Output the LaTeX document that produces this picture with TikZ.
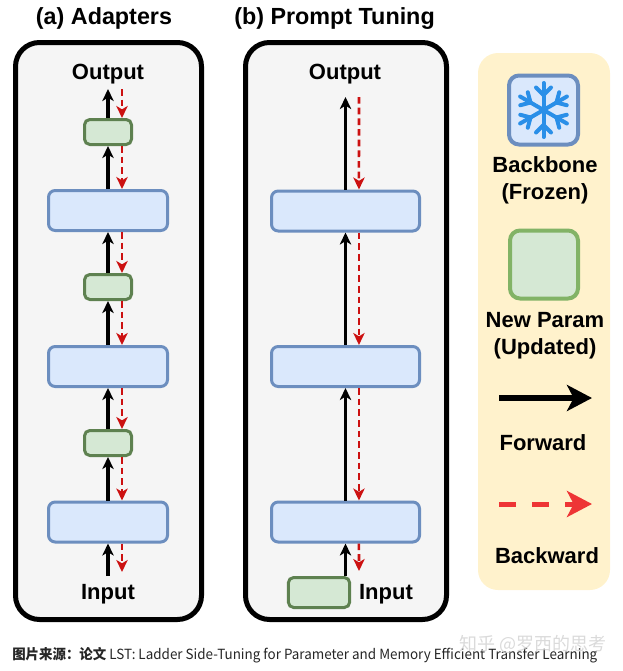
\documentclass[tikz,border=0pt]{standalone}
\usepackage{fontspec}
\setmainfont{Liberation Sans}
\newfontfamily\cjk{Noto Sans CJK SC}
\usetikzlibrary{arrows.meta}
\definecolor{panelgray}{HTML}{F5F5F5}
\definecolor{bluefill}{HTML}{DAE8FC}
\definecolor{bluedraw}{HTML}{6C8EBF}
\definecolor{greenfill}{HTML}{D5E8D4}
\definecolor{greendark}{HTML}{5E8150}
\definecolor{greenlight}{HTML}{82B366}
\definecolor{reddark}{HTML}{CC1111}
\definecolor{redlight}{HTML}{EE3535}
\definecolor{legendbg}{HTML}{FFF2CC}
\definecolor{snowblue}{HTML}{2A8FE8}
\tikzset{
  panelframe/.style={draw=black, line width=3.75pt, fill=panelgray, rounded corners=18pt},
  bluebox/.style={draw=bluedraw, fill=bluefill, line width=2.25pt, rounded corners=5pt,
    minimum width=#1, minimum height=30pt, inner sep=0pt},
  greenbox/.style={draw=greendark, fill=greenfill, line width=2.25pt, rounded corners=4pt,
    minimum width=35.25pt, minimum height=18.75pt, inner sep=0pt},
  fwd/.style={draw=black, line width=#1, -{Stealth[length=9pt,width=8.5pt,inset=2.5pt]}},
  bwd/.style={draw=reddark, line width=1.9pt, dash pattern=on 5pt off 3pt,
    -{Stealth[length=9pt,width=8.5pt,inset=2.5pt]}},
  lbl/.style={font=\fontsize{16.5}{20}\selectfont\bfseries, inner sep=0pt, anchor=base},
  ttl/.style={font=\fontsize{17.5}{21}\selectfont\bfseries, inner sep=0pt, anchor=base},
  snowline/.style={draw=snowblue, line width=3pt, line cap=round, line join=round},
}
\begin{document}
\begin{tikzpicture}[x=0.75pt,y=-0.75pt]
\useasboundingbox (0,0) rectangle (623,671);

% titles
\node[ttl] (ta) at (104,24) {(a) Adapters};
\node[ttl] (tb) at (334.5,24) {(b) Prompt Tuning};

% panel frames
\draw[panelframe] (15.5,42.5) rectangle (201.5,619.5);
\draw[panelframe] (245.5,42.5) rectangle (446.5,619.5);

% ---------- panel (a)
\node[bluebox=89.25pt] (a1) at (108,210.5) {};
\node[bluebox=89.25pt] (a2) at (108,366.5) {};
\node[bluebox=89.25pt] (a3) at (108,522) {};
\node[greenbox] (ag1) at (108,132) {};
\node[greenbox] (ag2) at (108,287) {};
\node[greenbox] (ag3) at (108,443) {};
\node[lbl] (aout) at (108,79) {Output};
\node[lbl] (ain) at (108,599) {Input};
\coordinate (aT) at (108,89);
\coordinate (aB) at (108,576);
\coordinate (aTR) at (122,89);
\coordinate (aBR) at (122,572);

\draw[fwd=2.4pt] (aB) -- (a3.south);
\draw[fwd=2.4pt] (a3.north) -- (ag3.south);
\draw[fwd=2.4pt] (ag3.north) -- (a2.south);
\draw[fwd=2.4pt] (a2.north) -- (ag2.south);
\draw[fwd=2.4pt] (ag2.north) -- (a1.south);
\draw[fwd=2.4pt] (a1.north) -- (ag1.south);
\draw[fwd=2.4pt] (ag1.north) -- (aT);

\draw[bwd] (aTR) -- ([xshift=10.5pt]ag1.north);
\draw[bwd] ([xshift=10.5pt]ag1.south) -- ([xshift=10.5pt]a1.north);
\draw[bwd] ([xshift=10.5pt]a1.south) -- ([xshift=10.5pt]ag2.north);
\draw[bwd] ([xshift=10.5pt]ag2.south) -- ([xshift=10.5pt]a2.north);
\draw[bwd] ([xshift=10.5pt]a2.south) -- ([xshift=10.5pt]ag3.north);
\draw[bwd] ([xshift=10.5pt]ag3.south) -- ([xshift=10.5pt]a3.north);
\draw[bwd] ([xshift=10.5pt]a3.south) -- (aBR);

% ---------- panel (b)
\node[bluebox=111pt] (b1) at (345.5,211) {};
\node[bluebox=111pt] (b2) at (345.5,366.5) {};
\node[bluebox=111pt] (b3) at (345.5,522) {};
\node[greenbox, minimum width=46pt, minimum height=22.5pt] (bg) at (319,592.5) {};
\node[lbl] (bout) at (345,79) {Output};
\node[lbl] (bin) at (386,599) {Input};
\coordinate (bT) at (345.5,97);
\coordinate (bTR) at (359,97);
\coordinate (bBR) at (359,571);

\draw[fwd=2pt] (bg.north -| b3.south) -- (b3.south);
\draw[fwd=2pt] (b3.north) -- (b2.south);
\draw[fwd=2pt] (b2.north) -- (b1.south);
\draw[fwd=2pt] (b1.north) -- (bT);

\draw[bwd] (bTR) -- ([xshift=10.1pt]b1.north);
\draw[bwd] ([xshift=10.1pt]b1.south) -- ([xshift=10.1pt]b2.north);
\draw[bwd] ([xshift=10.1pt]b2.south) -- ([xshift=10.1pt]b3.north);
\draw[bwd] ([xshift=10.1pt]b3.south) -- (bBR);

% ---------- legend
\fill[legendbg, rounded corners=15pt] (478,53) rectangle (610,590);
\node[draw=bluedraw, fill=bluefill, line width=3pt, rounded corners=7.5pt,
      minimum width=51.75pt, minimum height=51.75pt, inner sep=0pt] (snowbox) at (543.5,110) {};
\foreach \ang in {90,150,210,270,330,390} {
  \begin{scope}[shift={(snowbox.center)}, rotate=\ang]
    \draw[snowline] (0,0) -- (27,0);
    \draw[snowline] (22.5,7.5) -- (15,0) -- (22.5,-7.5);
  \end{scope}
}
\node[lbl] (lb1) at (545,172) {Backbone};
\node[lbl] (lb2) at (545,199) {(Frozen)};
\node[draw=greenlight, fill=greenfill, line width=3pt, rounded corners=7.5pt,
      minimum width=51pt, minimum height=51pt, inner sep=0pt] (gbox) at (544,264.5) {};
\node[lbl] (ln1) at (545,327) {New Param};
\node[lbl] (ln2) at (545,354) {(Updated)};
\coordinate (lf1) at (499,398);
\coordinate (lf2) at (592,398);
\draw[draw=black, line width=4.5pt, -{Stealth[length=18.75pt,width=19.5pt,inset=5pt]}] (lf1) -- (lf2);
\node[lbl] (lfw) at (543,450) {Forward};
\coordinate (lr1) at (499,504);
\coordinate (lr2) at (592,504);
\draw[draw=redlight, line width=3.75pt, dash pattern=on 12.75pt off 12pt,
      -{Stealth[length=18.75pt,width=19.5pt,inset=5pt]}] (lr1) -- (lr2);
\node[lbl] (lbw) at (547,563) {Backward};

% ---------- caption and watermark
\node[anchor=base west, inner sep=0pt, text=black!85] (cap) at (12,659)
  {\resizebox{438.75pt}{\height}{\cjk\fontsize{10.5}{12}\selectfont{\bfseries 图片来源：论文} LST: Ladder Side-Tuning for Parameter and Memory Efficient Transfer Learning}};
\node[inner sep=0pt, text=black!18, opacity=0.8] (wm) at (533,644)
  {\cjk\fontsize{13.5}{16}\selectfont 知乎 @罗西的思考};
\end{tikzpicture}
\end{document}
